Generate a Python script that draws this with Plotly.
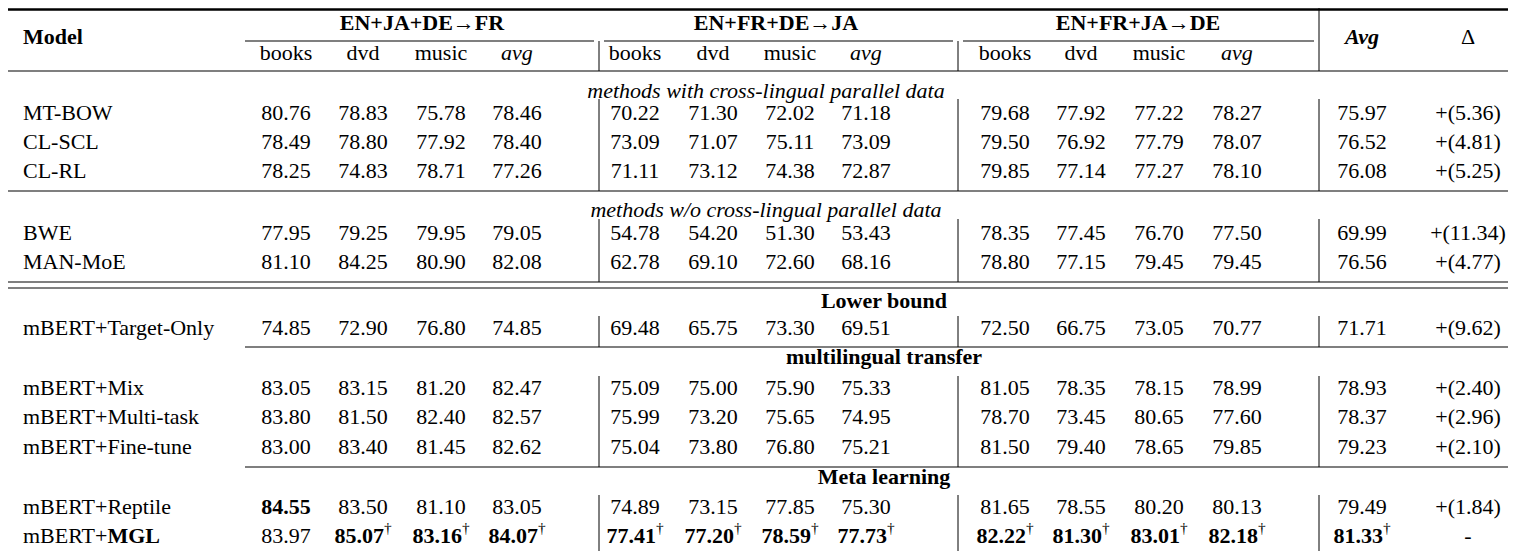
import plotly.graph_objects as go

models = ["MT-BOW", "CL-SCL", "CL-RL", "BWE", "MAN-MoE", "mBERT+Target-Only",
          "mBERT+Mix", "mBERT+Multi-task", "mBERT+Fine-tune", "mBERT+Reptile", "mBERT+<b>MGL</b>"]
fr = [["80.76", "78.83", "75.78", "78.46"], ["78.49", "78.80", "77.92", "78.40"], ["78.25", "74.83", "78.71", "77.26"],
      ["77.95", "79.25", "79.95", "79.05"], ["81.10", "84.25", "80.90", "82.08"], ["74.85", "72.90", "76.80", "74.85"],
      ["83.05", "83.15", "81.20", "82.47"], ["83.80", "81.50", "82.40", "82.57"], ["83.00", "83.40", "81.45", "82.62"],
      ["<b>84.55</b>", "83.50", "81.10", "83.05"],
      ["83.97", "<b>85.07</b><sup>†</sup>", "<b>83.16</b><sup>†</sup>", "<b>84.07</b><sup>†</sup>"]]
ja = [["70.22", "71.30", "72.02", "71.18"], ["73.09", "71.07", "75.11", "73.09"], ["71.11", "73.12", "74.38", "72.87"],
      ["54.78", "54.20", "51.30", "53.43"], ["62.78", "69.10", "72.60", "68.16"], ["69.48", "65.75", "73.30", "69.51"],
      ["75.09", "75.00", "75.90", "75.33"], ["75.99", "73.20", "75.65", "74.95"], ["75.04", "73.80", "76.80", "75.21"],
      ["74.89", "73.15", "77.85", "75.30"],
      ["<b>77.41</b><sup>†</sup>", "<b>77.20</b><sup>†</sup>", "<b>78.59</b><sup>†</sup>", "<b>77.73</b><sup>†</sup>"]]
de = [["79.68", "77.92", "77.22", "78.27"], ["79.50", "76.92", "77.79", "78.07"], ["79.85", "77.14", "77.27", "78.10"],
      ["78.35", "77.45", "76.70", "77.50"], ["78.80", "77.15", "79.45", "79.45"], ["72.50", "66.75", "73.05", "70.77"],
      ["81.05", "78.35", "78.15", "78.99"], ["78.70", "73.45", "80.65", "77.60"], ["81.50", "79.40", "78.65", "79.85"],
      ["81.65", "78.55", "80.20", "80.13"],
      ["<b>82.22</b><sup>†</sup>", "<b>81.30</b><sup>†</sup>", "<b>83.01</b><sup>†</sup>", "<b>82.18</b><sup>†</sup>"]]
avg_all = ["75.97", "76.52", "76.08", "69.99", "76.56", "71.71", "78.93", "78.37", "79.23", "79.49", "<b>81.33</b><sup>†</sup>"]
delta = ["+(5.36)", "+(4.81)", "+(5.25)", "+(11.34)", "+(4.77)", "+(9.62)", "+(2.40)", "+(2.96)", "+(2.10)", "+(1.84)", "-"]
groups = ["EN+JA+DE→FR", "EN+FR+DE→JA", "EN+FR+JA→DE"]
subheads = ["books", "dvd", "music", "<i>avg</i>"]
sections = ["<i>methods with cross-lingual parallel data</i>", "<i>methods w/o cross-lingual parallel data</i>",
            "<b>Lower bound</b>", "<b>multilingual transfer</b>", "<b>Meta learning</b>"]

# layout (pixel geometry)
W, H = 1516, 551
row_y = [106, 135, 164, 226, 255, 321, 381, 410, 440, 500, 529]
col_x = [278, 355, 433, 509, 627, 705, 782, 858, 997, 1073, 1151, 1229]
avg_x, delta_x, model_x = 1354, 1460, 15
group_x = [414, 768, 1130]
sep_x = [591, 950, 1311]
sec_pos = [(758, 84), (758, 203), (876, 294), (876, 350), (876, 470)]
blocks = [(91, 183), (211, 274), (308, 339), (368, 459), (487, 548)]
FONT = "Liberation Serif, Times New Roman, Tinos, DejaVu Serif, serif"
FS = 22

fig = go.Figure()

def txt(xs, ys, texts, pos="middle center"):
    fig.add_trace(go.Scatter(x=xs, y=ys, text=texts, mode="text", textposition=pos,
                             textfont=dict(family=FONT, size=FS, color="black"),
                             hoverinfo="skip", showlegend=False))

txt([model_x] * len(models), row_y, models, "middle right")
for j in range(4):
    txt([col_x[j]] * 11, row_y, [r[j] for r in fr])
    txt([col_x[4 + j]] * 11, row_y, [r[j] for r in ja])
    txt([col_x[8 + j]] * 11, row_y, [r[j] for r in de])
txt([avg_x] * 11, row_y, avg_all)
txt([delta_x] * 11, row_y, delta)
# header
txt([model_x], [30], ["<b>Model</b>"], "middle right")
txt(group_x, [16] * 3, ["<b>" + g + "</b>" for g in groups])
txt(col_x, [46] * 12, subheads * 3)
txt([avg_x, delta_x], [30, 30], ["<b><i>Avg</i></b>", "Δ"])
txt([p[0] for p in sec_pos], [p[1] for p in sec_pos], sections)

def hline(x0, x1, y, w=1.2):
    fig.add_shape(type="line", x0=x0, x1=x1, y0=y, y1=y, line=dict(color="black", width=w))

def vline(x, y0, y1):
    fig.add_shape(type="line", x0=x, x1=x, y0=y0, y1=y1, line=dict(color="black", width=1))

hline(0, W, 1.5, 2.5)
hline(237, 586, 33); hline(596, 945, 33); hline(955, 1306, 33)
hline(0, W, 63)
hline(0, W, 183)
hline(0, W, 274); hline(0, W, 280)
hline(237, W, 339)
hline(237, W, 459)
hline(0, W, 549, 2.5)
vline(1311, 0, 63)
vline(591, 33, 63); vline(950, 33, 63)
for (a, b) in blocks:
    for x in sep_x:
        vline(x, a, b)

fig.update_layout(width=W, height=H, margin=dict(l=0, r=0, t=0, b=0),
                  plot_bgcolor="white", paper_bgcolor="white",
                  xaxis=dict(range=[0, W], visible=False, fixedrange=True),
                  yaxis=dict(range=[H, 0], visible=False, fixedrange=True))
fig.write_html("out.html")
